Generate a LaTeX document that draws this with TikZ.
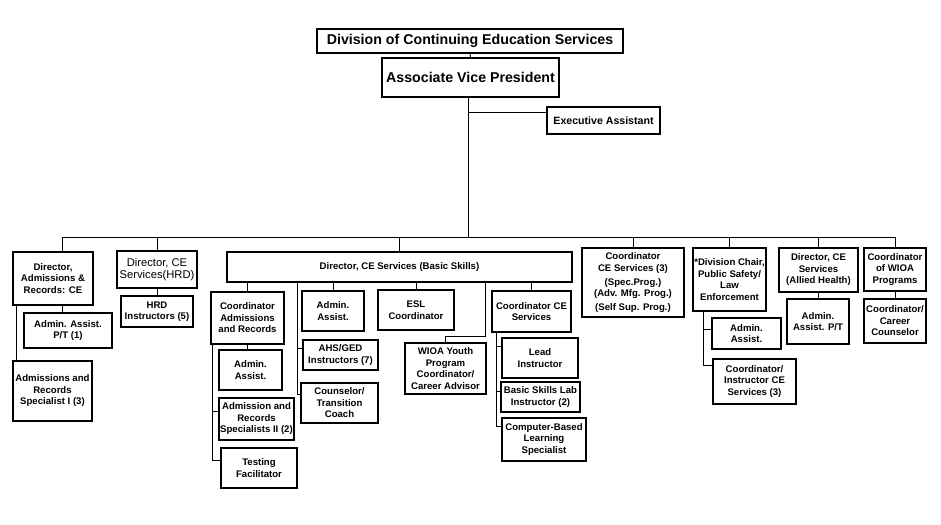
\documentclass[tikz,border=0pt]{standalone}
\usepackage{fontspec}
\setmainfont{Liberation Sans}
\begin{document}
\begin{tikzpicture}[x=1pt,y=-1pt,
	orgbox/.style={draw, line width=1.2pt, align=center, inner sep=1pt, font=\fontsize{9.6}{11.5}\selectfont\bfseries},
	link/.style={line width=1pt}]
		%%%%% START %%%%%
		\useasboundingbox (0,0) rectangle (941,524);
		
		\node[orgbox, minimum width=306, minimum height=24, font=\fontsize{14.2}{16}\selectfont\bfseries] (div) at (470,41) {Division of Continuing Education Services};
		\node[orgbox, minimum width=177, minimum height=39, font=\fontsize{14.2}{16}\selectfont\bfseries] (avp) at (470.5,77.5) {Associate Vice President};
		\node[orgbox, minimum width=113, minimum height=27, font=\fontsize{10.6}{12}\selectfont\bfseries] (exec) at (603.5,120.5) {Executive Assistant};
		
		\draw[link] (div.south) -- (avp.north);
		\coordinate (avpJ) at (468,113);
		\coordinate (busL) at (62,237);
		\coordinate (busR) at (895,237);
		\draw[link] (avpJ |- avp.south) -- (avpJ |- busL);
		\draw[link] (avpJ) -- (avpJ -| exec.west);
		\draw[link] (busL) -- (busR);
		
		% admissions and records
		\node[orgbox, minimum width=80, minimum height=53] (dirAR) at (53,278.5) {Director,\\ Admissions \&\\ Records: CE};
		\node[orgbox, minimum width=88, minimum height=35] (aaPT) at (68,330.5) {Admin. Assist.\\ P/T (1)};
		\node[orgbox, minimum width=79, minimum height=60] (specI) at (52.5,391) {Admissions and\\ Records\\ Specialist I (3)};
		\draw[link] (busL) -- (busL |- dirAR.north);
		\draw[link] (busL |- dirAR.south) -- (busL |- aaPT.north);
		\draw[link] ([xshift=4pt]dirAR.south west) -- ([xshift=4pt]specI.north west);
		
		% HRD
		\node[orgbox, minimum width=80, minimum height=37, font=\fontsize{11.2}{11.5}\selectfont] (hrd) at (157,269.5) {Director, CE\\ Services(HRD)};
		\node[orgbox, minimum width=72, minimum height=31] (hrdInst) at (157,311.5) {HRD\\ Instructors (5)};
		\draw[link] (hrd.north |- busL) -- (hrd.north);
		\draw[link] (hrd.south) -- (hrdInst.north);
		
		% basic skills
		\node[orgbox, minimum width=345, minimum height=30] (basic) at (399.5,267) {Director, CE Services (Basic Skills)};
		\draw[link] (basic.north |- busL) -- (basic.north);
		
		\node[orgbox, minimum width=73, minimum height=52] (coordAR) at (247.5,318) {Coordinator\\ Admissions\\ and Records};
		\node[orgbox, minimum width=63, minimum height=40] (admB) at (250.5,370) {Admin.\\ Assist.};
		\node[orgbox, minimum width=75, minimum height=42] (specII) at (256.5,419) {Admission and\\ Records\\ Specialists II (2)};
		\node[orgbox, minimum width=76, minimum height=40] (testing) at (259,468) {Testing\\ Facilitator};
		\draw[link] (coordAR.north |- basic.south) -- (coordAR.north);
		\draw[link] (coordAR.south) -- (coordAR.south |- admB.north);
		\draw[link] ([xshift=2pt]coordAR.south west) |- ([yshift=-14pt]specII.north west);
		\draw[link] ([xshift=2pt]coordAR.south west) |- ([yshift=-13pt]testing.north west);
		
		\coordinate (tA) at (297,282);
		\node[orgbox, minimum width=62, minimum height=40] (adminA) at (333,311) {Admin.\\ Assist.};
		\node[orgbox, minimum width=75, minimum height=30] (ahs) at (340.5,355) {AHS/GED\\ Instructors (7)};
		\node[orgbox, minimum width=77, minimum height=40] (couns) at (339.5,403) {Counselor/\\ Transition\\ Coach};
		\draw[link] (adminA.north |- basic.south) -- (adminA.north);
		\draw[link] (tA) |- ([yshift=-9pt]ahs.north west);
		\draw[link] (tA) |- ([yshift=-12pt]couns.north west);
		
		\node[orgbox, minimum width=76, minimum height=40] (esl) at (416,310) {ESL\\ Coordinator};
		\draw[link] (esl.north |- basic.south) -- (esl.north);
		
		\coordinate (tW) at (485,282);
		\node[orgbox, minimum width=81, minimum height=51] (wioaY) at (445.5,368.5) {WIOA Youth\\ Program\\ Coordinator/\\ Career Advisor};
		\draw[link] (tW) |- ([yshift=6pt]wioaY.north) -- (wioaY.north);
		
		\node[orgbox, minimum width=79, minimum height=41] (coordCE) at (531.5,311.5) {Coordinator CE\\ Services};
		\node[orgbox, minimum width=76, minimum height=40] (lead) at (540,358) {Lead\\ Instructor};
		\node[orgbox, minimum width=79, minimum height=30] (bsl) at (540.5,397) {Basic Skills Lab\\ Instructor (2)};
		\node[orgbox, minimum width=84, minimum height=43] (cbl) at (544,439.5) {Computer-Based\\ Learning\\ Specialist};
		\draw[link] (coordCE.north |- basic.south) -- (coordCE.north);
		\draw[link] ([xshift=5pt]coordCE.south west) |- ([yshift=-9pt]lead.north west);
		\draw[link] ([xshift=5pt]coordCE.south west) |- ([yshift=-10pt]bsl.north west);
		\draw[link] ([xshift=5pt]coordCE.south west) |- ([yshift=-9pt]cbl.north west);
		
		% special programs
		\node[orgbox, minimum width=102, minimum height=69] (ce3) at (633,282.5) {Coordinator\\ CE Services (3)\\[2.5pt] (Spec.Prog.)\\ (Adv. Mfg. Prog.)\\[2pt] (Self Sup. Prog.)};
		\draw[link] (ce3.north |- busL) -- (ce3.north);
		
		% public safety
		\node[orgbox, minimum width=73, minimum height=63] (divChair) at (729.5,279.5) {*Division Chair,\\ Public Safety/\\ Law\\ Enforcement};
		\node[orgbox, minimum width=69, minimum height=31] (adminC) at (746.5,333.5) {Admin.\\ Assist.};
		\node[orgbox, minimum width=83, minimum height=45] (ciCE) at (754.5,381.5) {Coordinator/\\ Instructor CE\\ Services (3)};
		\draw[link] (divChair.north |- busL) -- (divChair.north);
		\draw[link] ([xshift=11pt]divChair.south west) |- ([yshift=-12pt]adminC.north west);
		\draw[link] ([xshift=11pt]divChair.south west) |- ([yshift=-7pt]ciCE.north west);
		
		% allied health
		\node[orgbox, minimum width=79, minimum height=44] (allied) at (818.5,270) {Director, CE\\ Services\\ (Allied Health)};
		\node[orgbox, minimum width=62, minimum height=45] (aaPT2) at (818,321.5) {Admin.\\ Assist. P/T};
		\draw[link] (allied.north |- busL) -- (allied.north);
		\draw[link] (allied.south) -- (allied.south |- aaPT2.north);
		
		% WIOA
		\node[orgbox, minimum width=62, minimum height=43] (wioaProg) at (895,269.5) {Coordinator\\ of WIOA\\ Programs};
		\node[orgbox, minimum width=62, minimum height=44] (career) at (895,321) {Coordinator/\\ Career\\ Counselor};
		\draw[link] (busR) -- (wioaProg.north);
		\draw[link] (wioaProg.south) -- (career.north);
		
		%%%%% END %%%%%
	\end{tikzpicture}
\end{document}
